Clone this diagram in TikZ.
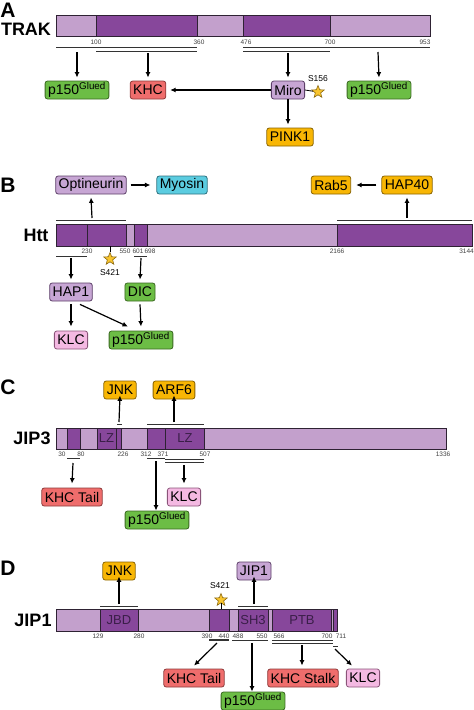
\documentclass[tikz,border=0pt]{standalone}
\usepackage{fontspec}
\setmainfont{Liberation Sans}
\usetikzlibrary{arrows.meta,positioning,shapes.geometric}
\definecolor{barlite}{HTML}{C3A0CC}
\definecolor{bardark}{HTML}{87479B}
\definecolor{barline}{HTML}{2E2233}
\definecolor{domtext}{HTML}{3A1E48}
\definecolor{purfill}{HTML}{C7A6D4}
\definecolor{purline}{HTML}{5C3F68}
\definecolor{grnfill}{HTML}{6CBD45}
\definecolor{grnline}{HTML}{3B6A22}
\definecolor{redfill}{HTML}{EF6D6C}
\definecolor{redline}{HTML}{8E3A3A}
\definecolor{orgfill}{HTML}{F8B604}
\definecolor{orgline}{HTML}{8A6400}
\definecolor{cyafill}{HTML}{5BCCE0}
\definecolor{cyaline}{HTML}{2E7280}
\definecolor{pnkfill}{HTML}{F4B9E2}
\definecolor{pnkline}{HTML}{8A5479}
\definecolor{starfill}{HTML}{F9C52E}
\definecolor{starline}{HTML}{8C6A12}
\newcommand{\pglued}{p150\textsuperscript{Glued}}

\begin{document}
\begin{tikzpicture}[x=1pt, y=-1pt,
    box/.style={draw, rounded corners=2.5pt, line width=0.8pt, minimum height=18pt,
        inner xsep=3pt, inner ysep=0pt, font=\fontsize{14}{16}\selectfont},
    purbox/.style={box, fill=purfill, draw=purline},
    grnbox/.style={box, fill=grnfill, draw=grnline},
    redbox/.style={box, fill=redfill, draw=redline},
    orgbox/.style={box, fill=orgfill, draw=orgline},
    cyabox/.style={box, fill=cyafill, draw=cyaline},
    pnkbox/.style={box, fill=pnkfill, draw=pnkline},
    panel/.style={font=\fontsize{21}{23}\selectfont\bfseries, inner sep=0pt},
    prot/.style={font=\fontsize{18}{20}\selectfont\bfseries, inner sep=0pt},
    num/.style={font=\fontsize{6.5}{7}\selectfont, text=black!75, inner sep=0pt},
    site/.style={font=\fontsize{8.5}{9}\selectfont, inner sep=0pt},
    dom/.style={font=\fontsize{13}{14}\selectfont, text=domtext, inner sep=0pt},
    seglite/.style={fill=barlite, draw=barline, line width=0.9pt},
    segdark/.style={fill=bardark, draw=barline, line width=0.9pt},
    bind/.style={line width=0.9pt, black!80},
    phos/.style={star, star points=5, star point ratio=2.3, minimum size=13pt, inner sep=0pt,
        fill=starfill, draw=starline, line width=0.6pt},
    arr/.style={-{Latex[length=5.5pt, width=5pt]}, line width=1.2pt}
]
    \useasboundingbox (0,0) rectangle (474,710);

    % A: TRAK
    \node[panel] (labA) at (8,10) {A};
    \node[prot] (trak) at (26,29) {TRAK};
    \filldraw[seglite] (56,15) rectangle (430,36);
    \filldraw[segdark] (96,15) rectangle (197,36);
    \filldraw[segdark] (243,15) rectangle (330,36);
    \node[num] (a100) at (96,42) {100};
    \node[num] (a360) at (199,42) {360};
    \node[num] (a476) at (246,42) {476};
    \node[num] (a700) at (330,42) {700};
    \node[num] (a953) at (425,42) {953};
    \draw[bind] (56,47) -- (197,47);
    \draw[bind] (96,51) -- (197,51);
    \draw[bind] (243,47) -- (430,47);
    \draw[bind] (243,51) -- (330,51);
    \node[grnbox] (p150a) at (77,90) {\pglued};
    \node[redbox] (khc) at (148,90) {KHC};
    \node[purbox] (miro) at (288,90) {Miro};
    \node[grnbox] (p150b) at (379,90) {\pglued};
    \node[orgbox] (pink1) at (290,137) {PINK1};
    \node[phos] (starA) at (318,92) {};
    \node[site] (s156) at (318,79) {S156};
    \coordinate (fromA1) at (77,52);
    \coordinate (fromA2) at (148,53);
    \coordinate (fromA3) at (288,53);
    \coordinate (fromA4) at (378,52);
    \draw[arr] (fromA1) -- ([yshift=3pt]p150a.north);
    \draw[arr] (fromA2) -- ([yshift=3pt]khc.north);
    \draw[arr] (fromA3) -- ([yshift=3pt]miro.north);
    \draw[arr] (fromA4) -- ([yshift=3pt]p150b.north);
    \draw[arr] (miro) -- ([xshift=4pt]khc.east);
    \draw[arr] (miro.south) -- ([xshift=-2pt, yshift=3pt]pink1.north);
    \draw[line width=0.8pt] (miro.east) -- (starA);

    % B: Htt
    \node[panel] (labB) at (8,185) {B};
    \node[prot] (htt) at (36,235) {Htt};
    \filldraw[seglite] (56,224) rectangle (472,246);
    \filldraw[segdark] (56,224) rectangle (87,246);
    \filldraw[segdark] (87,224) rectangle (126,246);
    \filldraw[segdark] (134,224) rectangle (147,246);
    \filldraw[segdark] (337,224) rectangle (472,246);
    \node[num] (b230) at (87,251) {230};
    \node[num] (b550) at (125,251) {550};
    \node[num] (b601) at (138,251) {601};
    \node[num] (b698) at (150,251) {698};
    \node[num] (b2166) at (337,251) {2166};
    \node[num, anchor=east] (b3144) at (474,251) {3144};
    \draw[bind] (56,220) -- (126,220);
    \draw[bind] (337,220) -- (472,220);
    \draw[bind] (56,256) -- (87,256);
    \draw[bind] (134,256) -- (147,256);
    \node[purbox] (optin) at (91,185) {Optineurin};
    \node[cyabox] (myosin) at (182,185) {Myosin};
    \node[orgbox] (rab5) at (331,185) {Rab5};
    \node[orgbox] (hap40) at (407,185) {HAP40};
    \coordinate (fromB1) at (92,218);
    \coordinate (fromB2) at (407,218);
    \draw[arr] (fromB1) -- ([yshift=-3pt]optin.south);
    \draw[arr] (fromB2) -- ([yshift=-3pt]hap40.south);
    \draw[arr] ([xshift=4pt]optin.east) -- ([xshift=-6pt]myosin.west);
    \draw[arr] ([xshift=-5pt]hap40.west) -- ([xshift=5pt]rab5.east);
    \node[phos] (starB) at (110,259) {};
    \node[site] (s421b) at (110,273) {S421};
    \coordinate (bondB) at (110,246);
    \draw[line width=0.8pt] (bondB) -- (starB);
    \node[purbox] (hap1) at (71,292) {HAP1};
    \node[grnbox] (dic) at (140,292) {DIC};
    \node[pnkbox] (klcb) at (71,340) {KLC};
    \node[grnbox] (p150c) at (141,340) {\pglued};
    \coordinate (fromB3) at (71,258);
    \coordinate (fromB4) at (141,258);
    \draw[arr] (fromB3) -- ([yshift=3pt]hap1.north);
    \draw[arr] (fromB4) -- ([yshift=3pt]dic.north);
    \draw[arr] ([yshift=-3pt]hap1.south) -- ([yshift=4pt]klcb.north);
    \draw[arr] ([yshift=-3pt]dic.south) -- ([yshift=4pt]p150c.north);
    \draw[arr] ([xshift=9pt, yshift=-3pt]hap1.south) -- ([xshift=-13pt, yshift=4pt]p150c.north);

    % C: JIP3
    \node[panel] (labC) at (8,387) {C};
    \node[prot] (jip3) at (32,438) {JIP3};
    \filldraw[seglite] (56,428) rectangle (446,449);
    \filldraw[segdark] (67,428) rectangle (80,449);
    \filldraw[segdark] (97,428) rectangle (116,449);
    \filldraw[segdark] (116,428) rectangle (121,449);
    \filldraw[segdark] (147,428) rectangle (165,449);
    \filldraw[segdark] (165,428) rectangle (204,449);
    \node[dom] (lz1) at (106.5,438.5) {LZ};
    \node[dom] (lz2) at (185,438.5) {LZ};
    \node[num] (c30) at (62,454) {30};
    \node[num] (c80) at (81,454) {80};
    \node[num] (c226) at (123,454) {226};
    \node[num] (c312) at (146,454) {312};
    \node[num] (c371) at (163,454) {371};
    \node[num] (c507) at (205,454) {507};
    \node[num] (c1336) at (443,454) {1336};
    \draw[bind] (117,424.5) -- (122,424.5);
    \draw[bind] (147,424.5) -- (204,424.5);
    \draw[bind] (67,458) -- (80,458);
    \draw[bind] (147,458) -- (165,458);
    \draw[bind] (165,459) -- (204,459);
    \draw[bind] (165,462) -- (204,462);
    \node[orgbox] (jnkc) at (120,390) {JNK};
    \node[orgbox] (arf6) at (174,390) {ARF6};
    \node[redbox] (khctc) at (72,497) {KHC Tail};
    \node[pnkbox] (klcc) at (184,497) {KLC};
    \node[grnbox] (p150d) at (157,520) {\pglued};
    \coordinate (fromC1) at (119,422);
    \coordinate (fromC2) at (174,422);
    \coordinate (fromC3) at (73,463);
    \coordinate (fromC4) at (156,461);
    \coordinate (fromC5) at (184,465);
    \draw[arr] (fromC1) -- ([yshift=4pt]jnkc.south);
    \draw[arr] (fromC2) -- ([yshift=4pt]arf6.south);
    \draw[arr] (fromC3) -- ([yshift=4pt]khctc.north);
    \draw[arr] (fromC4) -- ([xshift=-1pt]p150d.north);
    \draw[arr] (fromC5) -- ([yshift=4pt]klcc.north);

    % D: JIP1
    \node[panel] (labD) at (8,568) {D};
    \node[prot] (jip1) at (33,620) {JIP1};
    \filldraw[seglite] (56,609) rectangle (337,631);
    \filldraw[segdark] (100,609) rectangle (138,631);
    \filldraw[segdark] (209,609) rectangle (229,631);
    \filldraw[segdark] (238,609) rectangle (268,631);
    \filldraw[segdark] (272,609) rectangle (331,631);
    \filldraw[segdark] (333,609) rectangle (337,631);
    \node[dom] (jbd) at (119,620) {JBD};
    \node[dom] (sh3) at (253,620) {SH3};
    \node[dom] (ptb) at (302,620) {PTB};
    \node[num] (d129) at (98,636) {129};
    \node[num] (d280) at (139,636) {280};
    \node[num] (d390) at (207,636) {390};
    \node[num] (d440) at (224,636) {440};
    \node[num] (d488) at (238,636) {488};
    \node[num] (d550) at (262,636) {550};
    \node[num] (d566) at (279,636) {566};
    \node[num] (d700) at (327,636) {700};
    \node[num] (d711) at (341,636) {711};
    \draw[bind] (100,606) -- (138,606);
    \draw[bind] (238,606) -- (268,606);
    \draw[bind, line width=1.6pt] (209,640) -- (229,640);
    \draw[bind] (232,640) -- (268,640);
    \draw[bind] (272,640) -- (333,640);
    \draw[bind] (272,643) -- (333,643);
    \draw[bind] (333,646) -- (338,646);
    \node[orgbox] (jnkd) at (119,571) {JNK};
    \node[purbox] (jip1box) at (254,571) {JIP1};
    \node[phos] (starD) at (221,600) {};
    \node[site] (s421d) at (220,586) {S421};
    \coordinate (bondD) at (221,609);
    \draw[line width=0.8pt] (bondD) -- (starD);
    \node[redbox] (khctd) at (194,678) {KHC Tail};
    \node[grnbox] (p150e) at (253,701) {\pglued};
    \node[redbox] (khcs) at (303,678) {KHC Stalk};
    \node[pnkbox] (klcd) at (363,678) {KLC};
    \coordinate (fromD1) at (119,604);
    \coordinate (fromD2) at (254,604);
    \coordinate (fromD3) at (217,643);
    \coordinate (fromD4) at (252,643);
    \coordinate (fromD5) at (302,645);
    \coordinate (fromD6) at (335,649);
    \draw[arr] (fromD1) -- ([yshift=4pt]jnkd.south);
    \draw[arr] (fromD2) -- ([yshift=4pt]jip1box.south);
    \draw[arr] (fromD3) -- ([yshift=3pt]khctd.north);
    \draw[arr] (fromD4) -- ([xshift=-1pt]p150e.north);
    \draw[arr] (fromD5) -- ([xshift=-1pt, yshift=3pt]khcs.north);
    \draw[arr] (fromD6) -- ([xshift=-11pt, yshift=3pt]klcd.north);
\end{tikzpicture}
\end{document}
